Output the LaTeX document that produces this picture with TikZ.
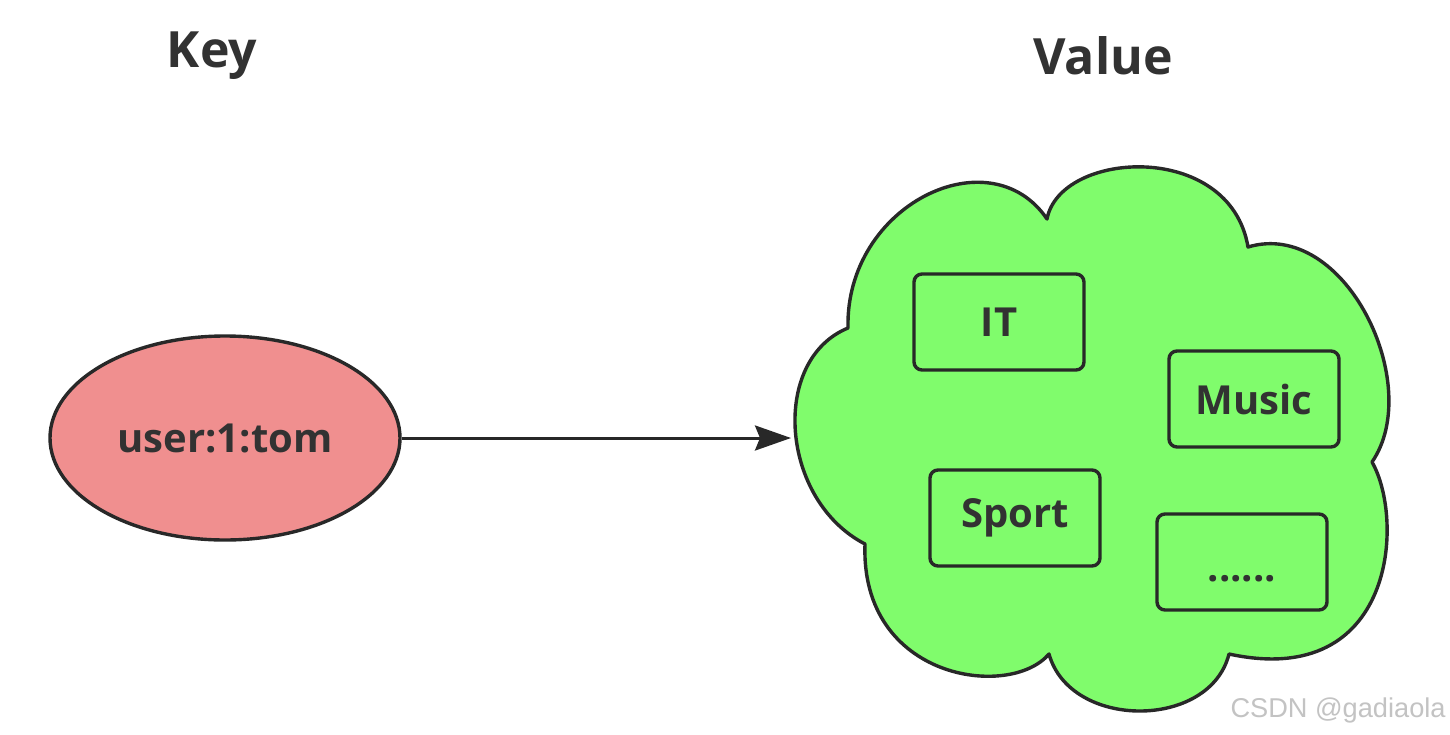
\documentclass[tikz,border=0pt]{standalone}
\usepackage{fontspec}
\setmainfont{Open Sans}
\newfontfamily\wmfont{Liberation Sans}
\usetikzlibrary{arrows.meta,shapes.geometric}
\definecolor{keyfill}{RGB}{240,143,143}
\definecolor{cloudfill}{RGB}{128,252,108}
\definecolor{ink}{RGB}{40,40,40}
\definecolor{txt}{RGB}{50,50,50}
\definecolor{wm}{RGB}{195,195,195}
\tikzset{
  title/.style={font=\fontsize{25}{30}\selectfont\bfseries, text=txt},
  keynode/.style={ellipse, draw=ink, line width=1.7pt, fill=keyfill, minimum width=175pt, minimum height=102pt, inner sep=0pt, font=\fontsize{20}{24}\selectfont\bfseries, text=txt},
  valbox/.style={rectangle, rounded corners=4pt, draw=ink, line width=1.7pt, minimum width=85pt, minimum height=48pt, inner sep=0pt, font=\fontsize{20}{24}\selectfont\bfseries, text=txt},
  link/.style={draw=ink, line width=1.5pt, -{Stealth[length=18pt, width=12.5pt, inset=2.5pt]}},
  cloudline/.style={draw=ink, line width=1.7pt, fill=cloudfill, line join=round}
}
\begin{document}
\begin{tikzpicture}[x=0.5pt, y=-0.5pt]
\useasboundingbox (0,0) rectangle (1450,734);
\fill[white] (0,0) rectangle (1450,734);
% titles
\node[title] (keytitle) at (212,56) {Key};
\node[title] (valtitle) at (1103,56) {Value};
% cloud
\path[cloudline] (848,328)
  .. controls (845,205) and (990,135) .. (1047,219)
  .. controls (1060,150) and (1230,140) .. (1248,247)
  .. controls (1345,218) and (1425,385) .. (1372,462)
  .. controls (1405,520) and (1395,690) .. (1229,654)
  .. controls (1210,730) and (1070,730) .. (1049,654)
  .. controls (1010,700) and (860,680) .. (865,544)
  .. controls (780,500) and (770,360) .. (848,328) -- cycle;
\coordinate (cloudW) at (791,438);
% key
\node[keynode] (key) at (225,438) {user:1:tom};
\draw[link] (key.east) -- (cloudW);
% value boxes
\node[valbox] (it) at (999,322) {IT};
\node[valbox] (music) at (1254,399) {Music};
\node[valbox] (sport) at (1015,518) {Sport};
\node[valbox] (more) at (1242,562) {};
\node[font=\fontsize{20}{24}\selectfont\bfseries, text=txt, inner sep=0pt, anchor=base] (dots) at (1242,581) {......};
% watermark
\node[font=\wmfont\fontsize{13.6}{16}\selectfont, text=wm, anchor=east, inner sep=0pt] (wmark) at (1446,710) {CSDN @gadiaola};
\end{tikzpicture}
\end{document}
